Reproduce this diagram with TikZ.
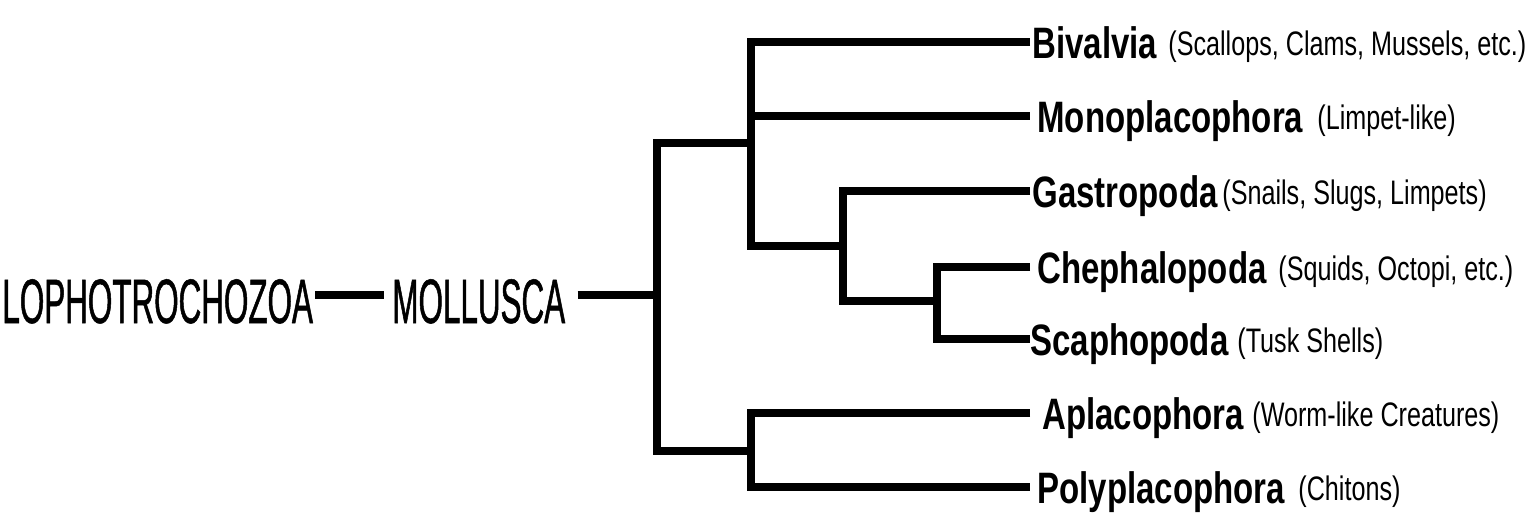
\documentclass[tikz,border=0pt]{standalone}
\usepackage{fontspec}
\setmainfont{Liberation Sans}
\newfontfamily\bigfont{Liberation Sans}[FakeStretch=0.5, FakeBold=0.8]
\newfontfamily\namefont{Liberation Sans}[FakeStretch=0.75]
\newfontfamily\notefont{Liberation Sans}[FakeStretch=0.74]
\tikzset{
  branch/.style={line width=4pt, line join=miter, line cap=butt, black},
  bigtxt/.style={inner xsep=0pt, inner ysep=0pt, font=\bigfont\fontsize{31.4pt}{34pt}\selectfont},
  nametxt/.style={anchor=base west, inner sep=0pt, font=\namefont\bfseries\fontsize{22pt}{24pt}\selectfont},
  notetxt/.style={anchor=base west, inner sep=0pt, font=\notefont\fontsize{17pt}{19pt}\selectfont},
}
\begin{document}
\begin{tikzpicture}[x=0.5pt,y=-0.5pt]
\useasboundingbox (0,0) rectangle (1536,530);
% main labels
\node[bigtxt, anchor=base west] (lopho) at (2,323) {LOPHOTROCHOZOA};
\node[bigtxt, anchor=base west] (moll) at (392,323) {MOLLUSCA};
% tree junctions
\coordinate (root) at (657,295);
\coordinate (A) at (751,143);
\coordinate (B) at (751,451);
\coordinate (G) at (843,246);
\coordinate (C) at (937,301);
% tips
\coordinate (tB) at (1030,42);
\coordinate (tM) at (1030,116);
\coordinate (tG) at (1030,191);
\coordinate (tC) at (1030,267);
\coordinate (tS) at (1030,339);
\coordinate (tA) at (1030,413);
\coordinate (tP) at (1030,487);
% connectors
\draw[branch] ([xshift=1pt]lopho.east |- root) -- ([xshift=-4pt]moll.west |- root);
\draw[branch] ([xshift=6pt]moll.east |- root) -- (root);
\draw[branch] (A) -- (A -| root) -- (B -| root) -- (B);
\draw[branch] (tB) -- (tB -| A) -- (G -| A) -- (G);
\draw[branch] (tM -| A) -- (tM);
\draw[branch] (tG) -- (tG -| G) -- (C -| G) -- (C);
\draw[branch] (tC) -- (tC -| C) -- (tS -| C) -- (tS);
\draw[branch] (tA) -- (tA -| B) -- (tP -| B) -- (tP);
% leaf names
\node[nametxt] (nB) at (1032,58) {Bivalvia};
\node[notetxt] (pB) at (1168,55) {(Scallops, Clams, Mussels, etc.)};
\node[nametxt] (nM) at (1037,132) {Monoplacophora};
\node[notetxt] (pM) at (1317,129) {(Limpet-like)};
\node[nametxt] (nG) at (1032,207) {Gastropoda};
\node[notetxt] (pG) at (1222,204) {(Snails, Slugs, Limpets)};
\node[nametxt] (nC) at (1037,283) {Chephalopoda};
\node[notetxt] (pC) at (1278,280) {(Squids, Octopi, etc.)};
\node[nametxt] (nS) at (1030,355) {Scaphopoda};
\node[notetxt] (pS) at (1237,352) {(Tusk Shells)};
\node[nametxt] (nA) at (1042,429) {Aplacophora};
\node[notetxt] (pA) at (1252,426) {(Worm-like Creatures)};
\node[nametxt] (nP) at (1037,503) {Polyplacophora};
\node[notetxt] (pP) at (1298,500) {(Chitons)};
\end{tikzpicture}
\end{document}
